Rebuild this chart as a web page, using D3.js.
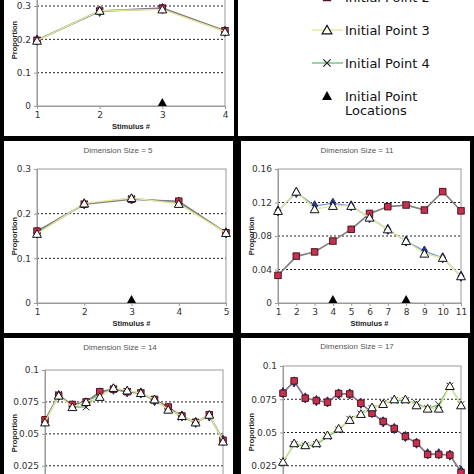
<!DOCTYPE html>
<html>
<head>
<meta charset="utf-8">
<script src="https://cdn.jsdelivr.net/npm/d3@7"></script>
<style>
  body { margin: 0; background: #000; }
  svg { display: block; }
  text { font-family: "DejaVu Sans", Verdana, sans-serif; }
</style>
</head>
<body>
<svg id="fig" width="474" height="474"></svg>
<script>
// series names (legend; the first entry is cropped off the top of the figure)
const seriesNames = ['Initial Point 1', 'Initial Point 2', 'Initial Point 3', 'Initial Point 4'];

// Dimension size 4 (top of figure is cropped)
const dim4P1 = [0.198, 0.284, 0.292, 0.224];
const dim4P2 = [0.197, 0.285, 0.294, 0.226];
const dim4P3 = [0.196, 0.286, 0.290, 0.223];
const dim4P4 = [0.198, 0.285, 0.293, 0.225];
const dim4Loc = [3];

// Dimension size 5
const dim5P1 = [0.158, 0.222, 0.233, 0.226, 0.157];
const dim5P2 = [0.161, 0.221, 0.232, 0.228, 0.157];
const dim5P3 = [0.155, 0.223, 0.235, 0.222, 0.157];
const dim5P4 = [0.157, 0.222, 0.234, 0.225, 0.158];
const dim5Loc = [3];

// Dimension size 11
const dim11P1 = [0.110, 0.132, 0.116, 0.119, 0.116, 0.102, 0.088, 0.074, 0.062, 0.054, 0.032];
const dim11P2 = [0.033, 0.056, 0.061, 0.074, 0.088, 0.107, 0.115, 0.117, 0.111, 0.133, 0.110];
const dim11P3 = [0.110, 0.133, 0.112, 0.116, 0.116, 0.102, 0.088, 0.074, 0.059, 0.054, 0.032];
const dim11P4 = [0.033, 0.055, 0.061, 0.074, 0.088, 0.106, 0.115, 0.117, 0.111, 0.133, 0.110];
const dim11Loc = [4, 8];

// Dimension size 14 (bottom cropped, locations not visible)
const dim14P1 = [0.060, 0.080, 0.072, 0.074, 0.082, 0.085, 0.083, 0.082, 0.076, 0.070, 0.064, 0.059, 0.064, 0.045];
const dim14P2 = [0.061, 0.080, 0.073, 0.075, 0.083, 0.085, 0.083, 0.082, 0.077, 0.071, 0.064, 0.059, 0.065, 0.045];
const dim14P3 = [0.059, 0.080, 0.071, 0.075, 0.079, 0.086, 0.084, 0.082, 0.077, 0.069, 0.064, 0.059, 0.065, 0.044];
const dim14P4 = [0.060, 0.081, 0.071, 0.071, 0.083, 0.085, 0.083, 0.082, 0.076, 0.070, 0.063, 0.059, 0.065, 0.044];
const dim14Loc = [];

// Dimension size 17 (bottom cropped, locations not visible)
const dim17P1 = [0.080, 0.088, 0.076, 0.074, 0.073, 0.079, 0.079, 0.072, 0.065, 0.058, 0.053, 0.047, 0.042, 0.034, 0.034, 0.033, 0.021];
const dim17P2 = [0.0795, 0.0888, 0.0758, 0.074, 0.0728, 0.0793, 0.079, 0.072, 0.0645, 0.0583, 0.053, 0.047, 0.042, 0.0335, 0.0335, 0.033, 0.020];
const dim17P3 = [0.028, 0.042, 0.0405, 0.042, 0.048, 0.053, 0.0595, 0.064, 0.069, 0.0715, 0.075, 0.075, 0.0705, 0.068, 0.068, 0.085, 0.0705];
const dim17P4 = [0.028, 0.041, 0.040, 0.041, 0.047, 0.052, 0.060, 0.064, 0.068, 0.072, 0.074, 0.074, 0.072, 0.068, 0.071, 0.085, 0.071];
const dim17Loc = [];

// y tick values per panel
const ticks4 = [0, 0.1, 0.2, 0.3, 0.4];
const ticks5 = [0, 0.1, 0.2, 0.3];
const ticks11 = [0, 0.04, 0.08, 0.12, 0.16];
const ticks14 = [0, 0.025, 0.05, 0.075, 0.1];
const ticks17 = [0, 0.025, 0.05, 0.075, 0.1];

const W = 474, H = 474;
const svg = d3.select('#fig');
const inView = v => v > 3 && v < H - 3;

// series styles: line colour, marker
const styles = [
  { line: '#7f9cd4', symbol: d3.symbolDiamond, size: 30, fill: '#2a3f8f', stroke: '#1c2a66' },
  { line: '#8d7684', symbol: d3.symbolSquare, size: 42, fill: '#c2334f', stroke: '#55121f' },
  { line: '#e2e99a', symbol: d3.symbolTriangle, size: 34, fill: '#fff', stroke: '#111' },
  { line: '#6fc07e', symbol: d3.symbolTimes || d3.symbolCross, size: 30, fill: 'none', stroke: '#222' }
];
const drawOrder = [0, 3, 1, 2];

// white panel boxes
const panels = [
  [4, -5, 234, 136], [238, -5, 474, 136],
  [4, 141, 233, 333], [241, 141, 470, 333],
  [4, 338, 233, 480], [241, 338, 468, 480]
];
svg.selectAll('rect.panel').data(panels).join('rect')
  .attr('class', 'panel')
  .attr('x', d => d[0]).attr('y', d => d[1])
  .attr('width', d => d[2] - d[0]).attr('height', d => d[3] - d[1])
  .attr('fill', '#fff');

function chart(cfg) {
  const g = svg.append('g');
  const n = cfg.series[0].length;
  const stim = d3.range(1, n + 1);
  const x = d3.scaleLinear().domain([1, n]).range([cfg.x0, cfg.x1]);
  const yMax = d3.max(cfg.ticks);
  const y = d3.scaleLinear().domain([0, yMax]).range([cfg.yZero, cfg.yMaxPx]);

  // dotted gridlines
  g.selectAll('line.grid').data(cfg.ticks.filter(t => t > 0 && t < yMax)).join('line')
    .attr('x1', cfg.x0).attr('x2', cfg.x1)
    .attr('y1', d => y(d)).attr('y2', d => y(d))
    .attr('stroke', '#222').attr('stroke-width', 1).attr('stroke-dasharray', '2,2');

  // plot area frame
  g.append('rect')
    .attr('x', cfg.x0).attr('y', y(yMax))
    .attr('width', cfg.x1 - cfg.x0).attr('height', y(0) - y(yMax))
    .attr('fill', 'none').attr('stroke', '#9a9a9a').attr('stroke-width', 1);

  // y axis (only the labels that fall inside the cropped picture)
  const yAxis = g.append('g').attr('transform', `translate(${cfg.x0},0)`)
    .call(d3.axisLeft(y).tickValues(cfg.ticks.filter(t => inView(y(t))))
      .tickSize(3).tickPadding(3).tickFormat(d => String(d)));
  yAxis.select('.domain').attr('stroke', '#9a9a9a');
  yAxis.selectAll('.tick line').attr('stroke', '#9a9a9a');
  yAxis.selectAll('text').attr('font-size', 9).attr('fill', '#333')
    .style('font-family', '"DejaVu Sans", Verdana, sans-serif');

  // x axis
  if (inView(cfg.yZero + 10)) {
    const xAxis = g.append('g').attr('transform', `translate(0,${cfg.yZero})`)
      .call(d3.axisBottom(x).tickValues(stim).tickSize(3).tickPadding(3).tickFormat(d3.format('d')));
    xAxis.select('.domain').attr('stroke', '#9a9a9a');
    xAxis.selectAll('.tick line').attr('stroke', '#9a9a9a');
    xAxis.selectAll('text').attr('font-size', 9).attr('fill', '#333')
      .style('font-family', '"DejaVu Sans", Verdana, sans-serif');
    g.append('text').attr('x', (cfg.x0 + cfg.x1) / 2).attr('y', cfg.yZero + 23)
      .attr('text-anchor', 'middle').attr('font-size', 7.5).attr('font-weight', 'bold').attr('fill', '#222')
      .style('font-family', '"Liberation Sans", Arial, sans-serif')
      .text('Stimulus #');
  }

  // title
  if (inView(cfg.titleY)) {
    g.append('text').attr('x', cfg.titleX).attr('y', cfg.titleY)
      .attr('text-anchor', 'middle').attr('font-size', 8).attr('fill', '#555')
      .style('font-family', '"Liberation Sans", Arial, sans-serif')
      .text(cfg.title);
  }

  g.append('text')
    .attr('transform', `translate(${cfg.propX},${cfg.propY})) rotate(-90)`.replace('))', ')'))
    .attr('text-anchor', 'middle').attr('font-size', 7.5).attr('font-weight', 'bold').attr('fill', '#222')
    .style('font-family', '"Liberation Sans", Arial, sans-serif')
    .text('Proportion');

  // series
  const line = d3.line().x((d, i) => x(i + 1)).y(d => y(d));
  drawOrder.forEach(si => {
    const st = styles[si];
    const vals = cfg.series[si];
    g.append('path').datum(vals).attr('d', line)
      .attr('fill', 'none').attr('stroke', st.line).attr('stroke-width', 1.4);
    g.selectAll(null).data(vals).join('path')
      .attr('transform', (d, i) => `translate(${x(i + 1)},${y(d) + (si === 2 ? 1 : 0)})`)
      .attr('d', d3.symbol(st.symbol, st.size))
      .attr('fill', st.fill).attr('stroke', st.stroke).attr('stroke-width', 1);
  });

  // initial point locations
  g.selectAll(null).data(cfg.loc).join('path')
    .attr('d', d => `M${x(d) - 4.5},${y(0)}L${x(d) + 4.5},${y(0)}L${x(d)},${y(0) - 8}Z`)
    .attr('fill', '#000');
}

chart({ series: [dim4P1, dim4P2, dim4P3, dim4P4], loc: dim4Loc, ticks: ticks4,
  x0: 37, x1: 225, yZero: 106, yMaxPx: -27.3, title: 'Dimension Size = 4', titleX: 120, titleY: -40,
  propX: 17, propY: 40 });
chart({ series: [dim5P1, dim5P2, dim5P3, dim5P4], loc: dim5Loc, ticks: ticks5,
  x0: 37, x1: 226, yZero: 303, yMaxPx: 169, title: 'Dimension Size = 5', titleX: 118, titleY: 153,
  propX: 17, propY: 236 });
chart({ series: [dim11P1, dim11P2, dim11P3, dim11P4], loc: dim11Loc, ticks: ticks11,
  x0: 278, x1: 461, yZero: 303, yMaxPx: 169, title: 'Dimension Size = 11', titleX: 357, titleY: 153,
  propX: 254, propY: 236 });
chart({ series: [dim14P1, dim14P2, dim14P3, dim14P4], loc: dim14Loc, ticks: ticks14,
  x0: 45, x1: 223, yZero: 497.7, yMaxPx: 370, title: 'Dimension Size = 14', titleX: 120, titleY: 350,
  propX: 17, propY: 433 });
chart({ series: [dim17P1, dim17P2, dim17P3, dim17P4], loc: dim17Loc, ticks: ticks17,
  x0: 283, x1: 461, yZero: 499, yMaxPx: 366, title: 'Dimension Size = 17', titleX: 357, titleY: 349,
  propX: 254, propY: 432 });

// legend (entries above the top edge are cropped in the reference)
const legend = svg.append('g');
const legendY = d3.scaleLinear().domain([0, 3]).range([-36, 63]);
seriesNames.forEach((name, i) => {
  const st = styles[i];
  const cy = legendY(i);
  if (cy < -10) return;
  legend.append('line').attr('x1', 312).attr('x2', 343).attr('y1', cy).attr('y2', cy)
    .attr('stroke', st.line).attr('stroke-width', 1.4);
  legend.append('path').attr('transform', `translate(327,${cy + (i === 2 ? 1 : 0)})`)
    .attr('d', d3.symbol(st.symbol, st.size * 1.2))
    .attr('fill', st.fill).attr('stroke', st.stroke).attr('stroke-width', 1.2);
  legend.append('text').attr('x', 345).attr('y', cy + 5).attr('font-size', 13).attr('fill', '#111')
    .text(name);
});
const locY = legendY(3) + 33;
legend.append('path')
  .attr('d', `M322,${locY + 4}L332,${locY + 4}L327,${locY - 5}Z`).attr('fill', '#000');
legend.append('text').attr('x', 345).attr('y', locY + 5).attr('font-size', 13).attr('fill', '#111')
  .text('Initial Point');
legend.append('text').attr('x', 345).attr('y', locY + 19).attr('font-size', 13).attr('fill', '#111')
  .text('Locations');
</script>
</body>
</html>
